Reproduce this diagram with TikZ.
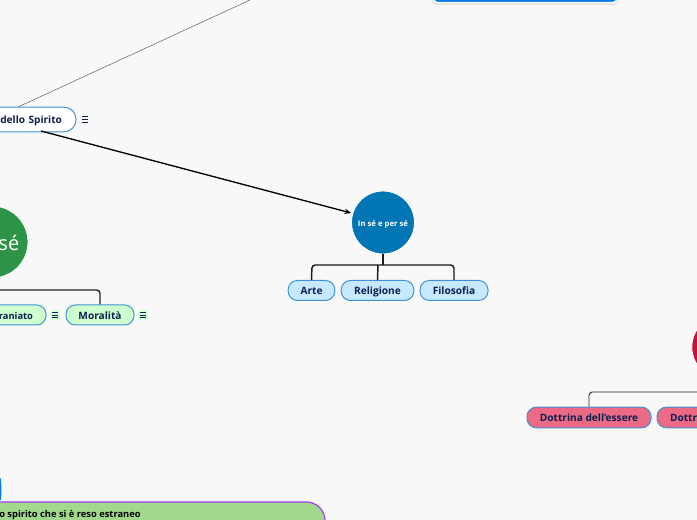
\documentclass[tikz,border=0pt]{standalone}
\usepackage{fontspec}
\setmainfont{Open Sans}
\usetikzlibrary{arrows.meta}
\definecolor{bgc}{HTML}{F8F8F8}
\definecolor{navy}{HTML}{0B1F52}
\definecolor{edge}{HTML}{3E93D6}
\definecolor{bluefill}{HTML}{C6E9FF}
\definecolor{greenfill}{HTML}{CFFFCF}
\definecolor{redfill}{HTML}{EC6A85}
\definecolor{bluecirc}{HTML}{0275B5}
\definecolor{greencirc}{HTML}{2D9447}
\definecolor{redcirc}{HTML}{C5103C}
\definecolor{topblue}{HTML}{0A7AEA}
\definecolor{boxgreen}{HTML}{A0D88C}
\definecolor{boxedge}{HTML}{A63FF0}
\definecolor{iconbg}{HTML}{D6FFD6}
\tikzset{
  pill/.style={draw=edge,line width=0.75pt,rounded corners=7pt,text=navy,font=\fontsize{7.6}{9}\selectfont\bfseries,inner sep=0pt,minimum height=15pt,anchor=center,text height=7.5pt,text depth=1.3pt},
  bluepill/.style={pill,fill=bluefill},
  greenpill/.style={pill,fill=greenfill},
  redpill/.style={pill,fill=redfill},
  whitepill/.style={pill,fill=white,rounded corners=9pt},
  circ/.style={circle,draw=white,line width=0.6pt,inner sep=0pt,text=white},
  tree/.style={line width=1.1pt,draw=black!90,rounded corners=2.5pt},
  thintree/.style={line width=0.7pt,draw=black!85,rounded corners=2.5pt},
}
\newcommand{\ham}[3]{%
  \fill[#3] (#1-5,#2-5) rectangle (#1+5,#2+5);
  \foreach \dy in {-2.6,0,2.6}{\draw[navy,line width=0.65pt] (#1-3,#2+\dy) -- (#1+3,#2+\dy);}
}
\begin{document}
\begin{tikzpicture}[x=0.75pt,y=-0.75pt]
\useasboundingbox (0,0) rectangle (697,520);
\clip (0,0) rectangle (697,520);
\fill[bgc] (0,0) rectangle (697,520);

% top blue box
\fill[black,opacity=0.08,rounded corners=4pt] (431,-20) rectangle (619,5);
\draw[white,line width=1pt,fill=topblue,rounded corners=3pt] (433.5,-20) rectangle (617,2.5);

% offscreen ends
\coordinate (offtop) at (250,0);
\coordinate (spiA) at (18,107);
\coordinate (spiB) at (41,131);

% In se e per se
\node[circ,fill=bluecirc,minimum size=47.2pt,font=\fontsize{5.8}{7}\selectfont\bfseries,text height=6pt,text depth=0.5pt] (inse) at (383,222.5) {In sé e per sé};
\node[bluepill,minimum width=35pt] (arte) at (311.5,290.5) {Arte};
\node[bluepill,minimum width=54.5pt] (relig) at (377.5,290.5) {Religione};
\node[bluepill,minimum width=51pt] (filo) at (454,290.5) {Filosofia};
\coordinate (barL) at (312,265);
\coordinate (barR) at (454,265);
\coordinate (barM) at (378,265);
\coordinate (barT) at (383,265);
\draw[tree] (arte.north) -- (barL) -- (barR) -- (filo.north);
\draw[tree,rounded corners=0pt] (relig.north) -- (barM);
\draw[tree,rounded corners=0pt] (inse.south) -- (barT);

% spirit node (runs off the left edge)
\node[whitepill,minimum width=132pt,minimum height=18.5pt,align=right,text width=111pt] (spirito) at (-12,119.5) {dello Spirito};
\draw[gray!90!black,line width=0.45pt] (spiA) -- (offtop);
\draw[black,line width=1pt,-{Stealth[length=5pt,width=4pt]}] (spiB) -- (inse.west |- 0,213);
\ham{85}{119.5}{bgc}

% green branch
\node[circ,fill=greencirc,minimum size=54pt] (se) at (-8,242) {};
\node[text=white,font=\fontsize{15}{20}\selectfont,inner sep=0pt,anchor=east] (setxt) at (19.5,243) {sé};
\node[greenpill,font=\fontsize{7}{9}\selectfont\bfseries,minimum width=60pt,align=right,text width=40.5pt] (estr) at (6,315) {raniato};
\node[greenpill,minimum width=51pt] (moral) at (100,315) {Moralità};
\coordinate (gbarL) at (-20,290);
\coordinate (gbarR) at (100,290);
\draw[tree,draw=black!85] (gbarL) -- (gbarR) -- (moral.north);
\ham{55}{315}{iconbg}
\ham{143}{315}{iconbg}

% red branch
\node[circ,fill=redcirc,minimum size=47.5pt] (redc) at (723.5,347) {};
\node[redpill,minimum width=93pt,minimum height=15.5pt] (essere) at (589,417.5) {Dottrina dell'essere};
\node[redpill,minimum width=60pt,minimum height=15.5pt,align=left,text width=40.5pt] (essen) at (697,417.5) {Dottr};
\coordinate (rbarL) at (589,392);
\coordinate (rbarR) at (720,392);
\draw[thintree] (essere.north) -- (rbarL) -- (rbarR);
\draw[thintree,rounded corners=0pt] (redc.south) -- (rbarR |- redc.south);

% bottom left
\draw[topblue,line width=1.2pt] (-0.2,478) .. controls (0.9,485) and (0.9,493) .. (0.1,500);
\draw[boxedge,line width=0.9pt,fill=boxgreen,rounded corners=14pt] (-60,502) rectangle (325,560);
\node[anchor=west,inner sep=0pt,font=\fontsize{7}{8}\selectfont\bfseries,text=black] (estraneo) at (-1,514.6) {o spirito che si è reso estraneo};
\end{tikzpicture}
\end{document}
